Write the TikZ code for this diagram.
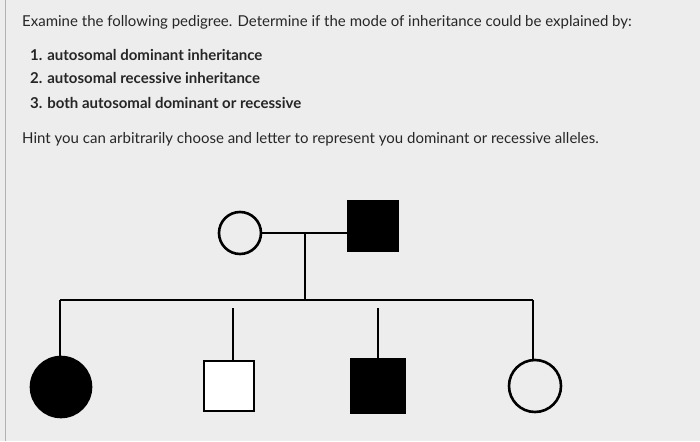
\documentclass[tikz,border=0pt]{standalone}
\usepackage{fontspec}
\setmainfont{Lato}
\begin{document}
\begin{tikzpicture}[x=1pt,y=-1pt,
  txt/.style={anchor=base west,inner sep=0pt,font=\fontsize{15}{17}\selectfont,text=black!85},
  itm/.style={txt,font=\fontsize{15}{17}\selectfont\bfseries},
  pl/.style={line width=2.6pt,black},
  sym/.style={line width=2.6pt,draw=black}]
\fill[gray!14] (0,0) rectangle (700,441);
\useasboundingbox (0,0) rectangle (700,441);
\draw[gray!60,line width=1pt] (5,0) -- (5,441);
\node[txt] (t) at (22,27) {Examine the following pedigree. Determine if the mode of inheritance could be explained by:};
\node[itm] (i1) at (30,61) {1. autosomal dominant inheritance};
\node[itm] (i2) at (30,84) {2. autosomal recessive inheritance};
\node[itm] (i3) at (30,108) {3. both autosomal dominant or recessive};
\node[txt] (h) at (22,143) {Hint you can arbitrarily choose and letter to represent you dominant or recessive alleles.};
% parents
\node[sym,circle,minimum size=42pt,inner sep=0pt] (m) at (240,233) {};
\node[sym,fill=black,minimum size=50pt,inner sep=0pt] (f) at (373,226) {};
\coordinate (mid) at (305,233);
\coordinate (sl) at (60,300);
\coordinate (sr) at (533,300);
\coordinate (sm) at (305,300);
\draw[pl] (m) -- (f.west |- m);
\draw[pl] (mid) -- (sm);
\draw[pl] (sl) -- (sr);
% children
\node[sym,circle,fill=black,minimum size=60pt,inner sep=0pt] (c1) at (61,387) {};
\node[sym,minimum size=50pt,inner sep=0pt,fill=white] (c2) at (229,386) {};
\node[sym,fill=black,minimum size=54pt,inner sep=0pt] (c3) at (378,386) {};
\node[sym,circle,minimum size=52pt,inner sep=0pt] (c4) at (535,386) {};
\draw[pl] (sl) -- (c1.north -| sl);
\draw[pl] (c2.north -| 233,0) -- (233,308);
\draw[pl] (c3.north) -- (378,308);
\draw[pl] (sr) -- (c4.north -| sr);
\end{tikzpicture}
\end{document}
